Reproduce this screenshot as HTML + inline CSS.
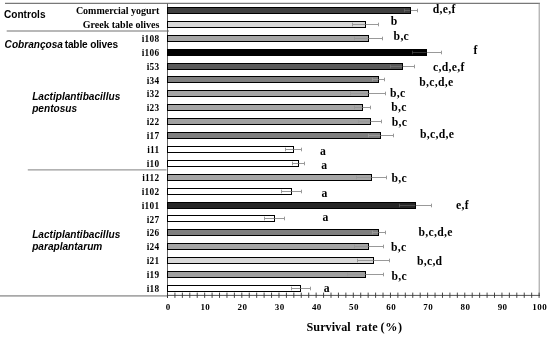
<!DOCTYPE html>
<html><head><meta charset="utf-8"><style>
html,body{margin:0;padding:0;background:#fff;}
svg{display:block;filter:blur(0.3px);}
.lab{font-family:"Liberation Serif",serif;font-weight:bold;font-size:10px;fill:#000;}
.lab2{font-family:"Liberation Serif",serif;font-weight:bold;font-size:9.3px;letter-spacing:0.35px;fill:#000;}
.let{font-family:"Liberation Serif",serif;font-weight:bold;font-size:11.7px;letter-spacing:0.3px;fill:#000;}
.tick{font-family:"Liberation Serif",serif;font-weight:bold;font-size:9px;letter-spacing:0.45px;fill:#000;}
.grp{font-family:"Liberation Sans",sans-serif;font-weight:bold;font-size:10.1px;fill:#000;}
</style></head><body>
<svg width="550" height="338" viewBox="0 0 550 338">
<rect x="0" y="0" width="550" height="338" fill="#fff"/>

<line x1="5" y1="3.4" x2="540" y2="3.4" stroke="#787878" stroke-width="1.1"/>
<line x1="539.2" y1="3.3" x2="539.2" y2="295.5" stroke="#999" stroke-width="1"/>
<line x1="6.7" y1="30.9" x2="169" y2="30.9" stroke="#a0a0a0" stroke-width="1.5"/>
<line x1="27.8" y1="169.9" x2="166.5" y2="169.9" stroke="#999" stroke-width="1.4"/>
<line x1="0" y1="295.9" x2="167" y2="295.9" stroke="#a8a8a8" stroke-width="1.8"/>
<line x1="167" y1="295.4" x2="540" y2="295.4" stroke="#555" stroke-width="1"/>
<line x1="167.5" y1="3.3" x2="167.5" y2="298" stroke="#606060" stroke-width="1"/>
<line x1="167.50" y1="292.6" x2="167.50" y2="297.9" stroke="#333" stroke-width="0.9"/>
<line x1="174.93" y1="292.6" x2="174.93" y2="297.9" stroke="#333" stroke-width="0.9"/>
<line x1="182.36" y1="292.6" x2="182.36" y2="297.9" stroke="#333" stroke-width="0.9"/>
<line x1="189.80" y1="292.6" x2="189.80" y2="297.9" stroke="#333" stroke-width="0.9"/>
<line x1="197.23" y1="292.6" x2="197.23" y2="297.9" stroke="#333" stroke-width="0.9"/>
<line x1="204.66" y1="292.6" x2="204.66" y2="297.9" stroke="#333" stroke-width="0.9"/>
<line x1="212.09" y1="292.6" x2="212.09" y2="297.9" stroke="#333" stroke-width="0.9"/>
<line x1="219.52" y1="292.6" x2="219.52" y2="297.9" stroke="#333" stroke-width="0.9"/>
<line x1="226.96" y1="292.6" x2="226.96" y2="297.9" stroke="#333" stroke-width="0.9"/>
<line x1="234.39" y1="292.6" x2="234.39" y2="297.9" stroke="#333" stroke-width="0.9"/>
<line x1="241.82" y1="292.6" x2="241.82" y2="297.9" stroke="#333" stroke-width="0.9"/>
<line x1="249.25" y1="292.6" x2="249.25" y2="297.9" stroke="#333" stroke-width="0.9"/>
<line x1="256.68" y1="292.6" x2="256.68" y2="297.9" stroke="#333" stroke-width="0.9"/>
<line x1="264.12" y1="292.6" x2="264.12" y2="297.9" stroke="#333" stroke-width="0.9"/>
<line x1="271.55" y1="292.6" x2="271.55" y2="297.9" stroke="#333" stroke-width="0.9"/>
<line x1="278.98" y1="292.6" x2="278.98" y2="297.9" stroke="#333" stroke-width="0.9"/>
<line x1="286.41" y1="292.6" x2="286.41" y2="297.9" stroke="#333" stroke-width="0.9"/>
<line x1="293.84" y1="292.6" x2="293.84" y2="297.9" stroke="#333" stroke-width="0.9"/>
<line x1="301.28" y1="292.6" x2="301.28" y2="297.9" stroke="#333" stroke-width="0.9"/>
<line x1="308.71" y1="292.6" x2="308.71" y2="297.9" stroke="#333" stroke-width="0.9"/>
<line x1="316.14" y1="292.6" x2="316.14" y2="297.9" stroke="#333" stroke-width="0.9"/>
<line x1="323.57" y1="292.6" x2="323.57" y2="297.9" stroke="#333" stroke-width="0.9"/>
<line x1="331.00" y1="292.6" x2="331.00" y2="297.9" stroke="#333" stroke-width="0.9"/>
<line x1="338.44" y1="292.6" x2="338.44" y2="297.9" stroke="#333" stroke-width="0.9"/>
<line x1="345.87" y1="292.6" x2="345.87" y2="297.9" stroke="#333" stroke-width="0.9"/>
<line x1="353.30" y1="292.6" x2="353.30" y2="297.9" stroke="#333" stroke-width="0.9"/>
<line x1="360.73" y1="292.6" x2="360.73" y2="297.9" stroke="#333" stroke-width="0.9"/>
<line x1="368.16" y1="292.6" x2="368.16" y2="297.9" stroke="#333" stroke-width="0.9"/>
<line x1="375.60" y1="292.6" x2="375.60" y2="297.9" stroke="#333" stroke-width="0.9"/>
<line x1="383.03" y1="292.6" x2="383.03" y2="297.9" stroke="#333" stroke-width="0.9"/>
<line x1="390.46" y1="292.6" x2="390.46" y2="297.9" stroke="#333" stroke-width="0.9"/>
<line x1="397.89" y1="292.6" x2="397.89" y2="297.9" stroke="#333" stroke-width="0.9"/>
<line x1="405.32" y1="292.6" x2="405.32" y2="297.9" stroke="#333" stroke-width="0.9"/>
<line x1="412.76" y1="292.6" x2="412.76" y2="297.9" stroke="#333" stroke-width="0.9"/>
<line x1="420.19" y1="292.6" x2="420.19" y2="297.9" stroke="#333" stroke-width="0.9"/>
<line x1="427.62" y1="292.6" x2="427.62" y2="297.9" stroke="#333" stroke-width="0.9"/>
<line x1="435.05" y1="292.6" x2="435.05" y2="297.9" stroke="#333" stroke-width="0.9"/>
<line x1="442.48" y1="292.6" x2="442.48" y2="297.9" stroke="#333" stroke-width="0.9"/>
<line x1="449.92" y1="292.6" x2="449.92" y2="297.9" stroke="#333" stroke-width="0.9"/>
<line x1="457.35" y1="292.6" x2="457.35" y2="297.9" stroke="#333" stroke-width="0.9"/>
<line x1="464.78" y1="292.6" x2="464.78" y2="297.9" stroke="#333" stroke-width="0.9"/>
<line x1="472.21" y1="292.6" x2="472.21" y2="297.9" stroke="#333" stroke-width="0.9"/>
<line x1="479.64" y1="292.6" x2="479.64" y2="297.9" stroke="#333" stroke-width="0.9"/>
<line x1="487.08" y1="292.6" x2="487.08" y2="297.9" stroke="#333" stroke-width="0.9"/>
<line x1="494.51" y1="292.6" x2="494.51" y2="297.9" stroke="#333" stroke-width="0.9"/>
<line x1="501.94" y1="292.6" x2="501.94" y2="297.9" stroke="#333" stroke-width="0.9"/>
<line x1="509.37" y1="292.6" x2="509.37" y2="297.9" stroke="#333" stroke-width="0.9"/>
<line x1="516.80" y1="292.6" x2="516.80" y2="297.9" stroke="#333" stroke-width="0.9"/>
<line x1="524.24" y1="292.6" x2="524.24" y2="297.9" stroke="#333" stroke-width="0.9"/>
<line x1="531.67" y1="292.6" x2="531.67" y2="297.9" stroke="#333" stroke-width="0.9"/>
<line x1="539.10" y1="292.6" x2="539.10" y2="297.9" stroke="#333" stroke-width="0.9"/>
<text class="tick" x="168.20" y="310.3" text-anchor="middle">0</text>
<text class="tick" x="205.36" y="310.3" text-anchor="middle">10</text>
<text class="tick" x="242.52" y="310.3" text-anchor="middle">20</text>
<text class="tick" x="279.68" y="310.3" text-anchor="middle">30</text>
<text class="tick" x="316.84" y="310.3" text-anchor="middle">40</text>
<text class="tick" x="354.00" y="310.3" text-anchor="middle">50</text>
<text class="tick" x="391.16" y="310.3" text-anchor="middle">60</text>
<text class="tick" x="428.32" y="310.3" text-anchor="middle">70</text>
<text class="tick" x="465.48" y="310.3" text-anchor="middle">80</text>
<text class="tick" x="502.64" y="310.3" text-anchor="middle">90</text>
<text class="tick" x="539.80" y="310.3" text-anchor="middle">100</text>
<text y="331" style="font-family:'Liberation Serif',serif;font-weight:bold;font-size:12.2px"><tspan x="306.6">Survival</tspan><tspan x="355.9" letter-spacing="0.3">rate</tspan><tspan x="380.4" letter-spacing="0.7">(%)</tspan></text>
<rect x="167.5" y="7.5" width="243.0" height="6" fill="#404040" stroke="#000" stroke-width="1"/>
<path d="M404.5 10.50H410.5M404.5 8.70V12.30" stroke="#999" stroke-opacity="0.35" stroke-width="1" fill="none"/>
<path d="M411.0 10.50H417.5M417.5 8.70V12.30" stroke="#999" stroke-width="1" fill="none"/>
<text class="lab" x="159.3" y="13.70" text-anchor="end">Commercial yogurt</text>
<text class="let" x="432.70" y="13.10">d,e,f</text>
<rect x="167.5" y="21.5" width="198.0" height="6" fill="#d9d9d9" stroke="#000" stroke-width="1"/>
<path d="M352.5 24.50H365.5M352.5 22.70V26.30" stroke="#999" stroke-opacity="1" stroke-width="1" fill="none"/>
<path d="M366.0 24.50H378.5M378.5 22.70V26.30" stroke="#999" stroke-width="1" fill="none"/>
<text class="lab" x="159.3" y="27.60" text-anchor="end">Greek table olives</text>
<text class="let" x="390.80" y="24.50">b</text>
<rect x="167.5" y="35.5" width="201.0" height="6" fill="#a6a6a6" stroke="#000" stroke-width="1"/>
<path d="M354.5 38.50H368.5M354.5 36.70V40.30" stroke="#999" stroke-opacity="1" stroke-width="1" fill="none"/>
<path d="M369.0 38.50H382.5M382.5 36.70V40.30" stroke="#999" stroke-width="1" fill="none"/>
<text class="lab2" x="159.6" y="41.80" text-anchor="end">i108</text>
<text class="let" x="393.60" y="39.60">b,c</text>
<rect x="167.5" y="49.5" width="259.0" height="6" fill="#000000" stroke="#000" stroke-width="1"/>
<path d="M412.5 52.50H426.5M412.5 50.70V54.30" stroke="#999" stroke-opacity="0.35" stroke-width="1" fill="none"/>
<path d="M427.0 52.50H441.5M441.5 50.70V54.30" stroke="#999" stroke-width="1" fill="none"/>
<text class="lab2" x="159.6" y="55.70" text-anchor="end">i106</text>
<text class="let" x="473.60" y="53.80">f</text>
<rect x="167.5" y="63.5" width="235.0" height="6" fill="#595959" stroke="#000" stroke-width="1"/>
<path d="M390.5 66.50H402.5M390.5 64.70V68.30" stroke="#999" stroke-opacity="0.35" stroke-width="1" fill="none"/>
<path d="M403.0 66.50H414.5M414.5 64.70V68.30" stroke="#999" stroke-width="1" fill="none"/>
<text class="lab2" x="159.6" y="69.60" text-anchor="end">i53</text>
<text class="let" x="433.10" y="70.90">c,d,e,f</text>
<rect x="167.5" y="76.5" width="211.0" height="6" fill="#808080" stroke="#000" stroke-width="1"/>
<path d="M372.5 79.50H378.5M372.5 77.70V81.30" stroke="#999" stroke-opacity="1" stroke-width="1" fill="none"/>
<path d="M379.0 79.50H384.5M384.5 77.70V81.30" stroke="#999" stroke-width="1" fill="none"/>
<text class="lab2" x="159.6" y="83.50" text-anchor="end">i34</text>
<text class="let" x="419.30" y="85.60">b,c,d,e</text>
<rect x="167.5" y="90.5" width="201.0" height="6" fill="#a6a6a6" stroke="#000" stroke-width="1"/>
<path d="M350.5 93.50H368.5M350.5 91.70V95.30" stroke="#999" stroke-opacity="1" stroke-width="1" fill="none"/>
<path d="M369.0 93.50H385.5M385.5 91.70V95.30" stroke="#999" stroke-width="1" fill="none"/>
<text class="lab2" x="159.6" y="97.40" text-anchor="end">i32</text>
<text class="let" x="390.00" y="96.50">b,c</text>
<rect x="167.5" y="104.5" width="195.0" height="6" fill="#a6a6a6" stroke="#000" stroke-width="1"/>
<path d="M354.5 107.50H362.5M354.5 105.70V109.30" stroke="#999" stroke-opacity="1" stroke-width="1" fill="none"/>
<path d="M363.0 107.50H370.5M370.5 105.70V109.30" stroke="#999" stroke-width="1" fill="none"/>
<text class="lab2" x="159.6" y="111.30" text-anchor="end">i23</text>
<text class="let" x="391.30" y="110.80">b,c</text>
<rect x="167.5" y="118.5" width="203.0" height="6" fill="#a0a0a0" stroke="#000" stroke-width="1"/>
<path d="M358.5 121.50H370.5M358.5 119.70V123.30" stroke="#999" stroke-opacity="1" stroke-width="1" fill="none"/>
<path d="M371.0 121.50H381.5M381.5 119.70V123.30" stroke="#999" stroke-width="1" fill="none"/>
<text class="lab2" x="159.6" y="125.20" text-anchor="end">i22</text>
<text class="let" x="391.80" y="126.30">b,c</text>
<rect x="167.5" y="132.5" width="213.0" height="6" fill="#7f7f7f" stroke="#000" stroke-width="1"/>
<path d="M368.5 135.50H380.5M368.5 133.70V137.30" stroke="#999" stroke-opacity="1" stroke-width="1" fill="none"/>
<path d="M381.0 135.50H393.5M393.5 133.70V137.30" stroke="#999" stroke-width="1" fill="none"/>
<text class="lab2" x="159.6" y="139.10" text-anchor="end">i17</text>
<text class="let" x="420.00" y="138.10">b,c,d,e</text>
<rect x="167.5" y="146.5" width="126.0" height="6" fill="#ffffff" stroke="#000" stroke-width="1"/>
<path d="M285.5 149.50H293.5M285.5 147.70V151.30" stroke="#999" stroke-opacity="1" stroke-width="1" fill="none"/>
<path d="M294.0 149.50H301.5M301.5 147.70V151.30" stroke="#999" stroke-width="1" fill="none"/>
<text class="lab2" x="159.6" y="153.00" text-anchor="end">i11</text>
<text class="let" x="320.00" y="154.50">a</text>
<rect x="167.5" y="160.5" width="131.0" height="6" fill="#ffffff" stroke="#000" stroke-width="1"/>
<path d="M292.5 163.50H298.5M292.5 161.70V165.30" stroke="#999" stroke-opacity="1" stroke-width="1" fill="none"/>
<path d="M299.0 163.50H304.5M304.5 161.70V165.30" stroke="#999" stroke-width="1" fill="none"/>
<text class="lab2" x="159.6" y="166.90" text-anchor="end">i10</text>
<text class="let" x="321.30" y="168.70">a</text>
<rect x="167.5" y="174.5" width="204.0" height="6" fill="#a6a6a6" stroke="#000" stroke-width="1"/>
<path d="M356.5 177.50H371.5M356.5 175.70V179.30" stroke="#999" stroke-opacity="1" stroke-width="1" fill="none"/>
<path d="M372.0 177.50H386.5M386.5 175.70V179.30" stroke="#999" stroke-width="1" fill="none"/>
<text class="lab2" x="159.6" y="180.80" text-anchor="end">i112</text>
<text class="let" x="391.50" y="181.70">b,c</text>
<rect x="167.5" y="188.5" width="124.0" height="6" fill="#ffffff" stroke="#000" stroke-width="1"/>
<path d="M281.5 191.50H291.5M281.5 189.70V193.30" stroke="#999" stroke-opacity="1" stroke-width="1" fill="none"/>
<path d="M292.0 191.50H301.5M301.5 189.70V193.30" stroke="#999" stroke-width="1" fill="none"/>
<text class="lab2" x="159.6" y="194.70" text-anchor="end">i102</text>
<text class="let" x="321.50" y="196.70">a</text>
<rect x="167.5" y="202.5" width="248.0" height="6" fill="#262626" stroke="#000" stroke-width="1"/>
<path d="M399.5 205.50H415.5M399.5 203.70V207.30" stroke="#999" stroke-opacity="0.35" stroke-width="1" fill="none"/>
<path d="M416.0 205.50H431.5M431.5 203.70V207.30" stroke="#999" stroke-width="1" fill="none"/>
<text class="lab2" x="159.6" y="208.60" text-anchor="end">i101</text>
<text class="let" x="456.00" y="208.60">e,f</text>
<rect x="167.5" y="215.5" width="107.0" height="6" fill="#ffffff" stroke="#000" stroke-width="1"/>
<path d="M264.5 218.50H274.5M264.5 216.70V220.30" stroke="#999" stroke-opacity="1" stroke-width="1" fill="none"/>
<path d="M275.0 218.50H284.5M284.5 216.70V220.30" stroke="#999" stroke-width="1" fill="none"/>
<text class="lab2" x="159.6" y="222.50" text-anchor="end">i27</text>
<text class="let" x="322.40" y="221.40">a</text>
<rect x="167.5" y="229.5" width="211.0" height="6" fill="#808080" stroke="#000" stroke-width="1"/>
<path d="M372.5 232.50H378.5M372.5 230.70V234.30" stroke="#999" stroke-opacity="1" stroke-width="1" fill="none"/>
<path d="M379.0 232.50H385.5M385.5 230.70V234.30" stroke="#999" stroke-width="1" fill="none"/>
<text class="lab2" x="159.6" y="236.40" text-anchor="end">i26</text>
<text class="let" x="418.50" y="236.00">b,c,d,e</text>
<rect x="167.5" y="243.5" width="201.0" height="6" fill="#a6a6a6" stroke="#000" stroke-width="1"/>
<path d="M354.5 246.50H368.5M354.5 244.70V248.30" stroke="#999" stroke-opacity="1" stroke-width="1" fill="none"/>
<path d="M369.0 246.50H383.5M383.5 244.70V248.30" stroke="#999" stroke-width="1" fill="none"/>
<text class="lab2" x="159.6" y="250.30" text-anchor="end">i24</text>
<text class="let" x="390.90" y="250.90">b,c</text>
<rect x="167.5" y="257.5" width="206.0" height="6" fill="#d9d9d9" stroke="#000" stroke-width="1"/>
<path d="M357.5 260.50H373.5M357.5 258.70V262.30" stroke="#999" stroke-opacity="1" stroke-width="1" fill="none"/>
<path d="M374.0 260.50H389.5M389.5 258.70V262.30" stroke="#999" stroke-width="1" fill="none"/>
<text class="lab2" x="159.6" y="264.20" text-anchor="end">i21</text>
<text class="let" x="416.90" y="264.50">b,c,d</text>
<rect x="167.5" y="271.5" width="198.0" height="6" fill="#a0a0a0" stroke="#000" stroke-width="1"/>
<path d="M347.5 274.50H365.5M347.5 272.70V276.30" stroke="#999" stroke-opacity="1" stroke-width="1" fill="none"/>
<path d="M366.0 274.50H383.5M383.5 272.70V276.30" stroke="#999" stroke-width="1" fill="none"/>
<text class="lab2" x="159.6" y="278.10" text-anchor="end">i19</text>
<text class="let" x="391.40" y="279.50">b,c</text>
<rect x="167.5" y="285.5" width="133.0" height="6" fill="#ffffff" stroke="#000" stroke-width="1"/>
<path d="M291.5 288.50H300.5M291.5 286.70V290.30" stroke="#999" stroke-opacity="1" stroke-width="1" fill="none"/>
<path d="M301.0 288.50H310.5M310.5 286.70V290.30" stroke="#999" stroke-width="1" fill="none"/>
<text class="lab2" x="159.6" y="292.00" text-anchor="end">i18</text>
<text class="let" x="323.80" y="291.50">a</text>
<text class="grp" x="4" y="18.1">Controls</text>
<text class="grp" x="4.6" y="47.6"><tspan font-style="italic">Cobrançosa</tspan><tspan x="64.7" style="letter-spacing:-0.15px">table olives</tspan></text>
<text class="grp" x="32.2" y="100.1" font-style="italic">Lactiplantibacillus</text>
<text class="grp" x="32.2" y="111.9" font-style="italic">pentosus</text>
<text class="grp" x="32.2" y="238.2" font-style="italic">Lactiplantibacillus</text>
<text class="grp" x="32.2" y="249.5" font-style="italic">paraplantarum</text>
</svg></body></html>
